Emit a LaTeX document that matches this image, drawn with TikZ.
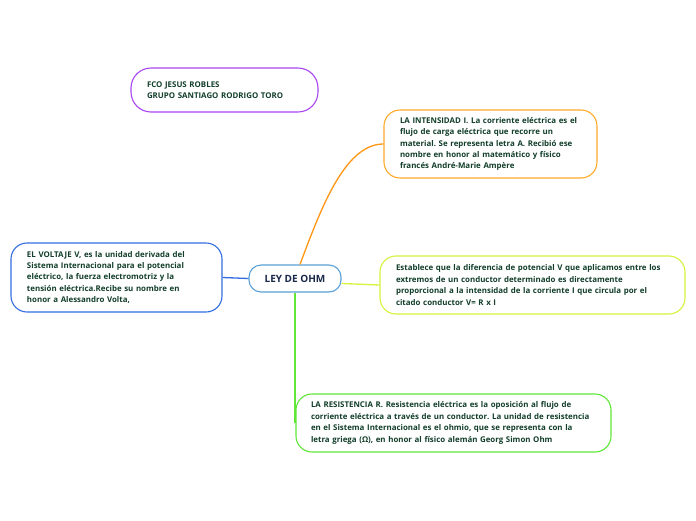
\documentclass[tikz,border=0pt]{standalone}
\usepackage{fontspec}
\setmainfont{Open Sans}
\frenchspacing
\definecolor{txtgreen}{RGB}{18,62,42}
\definecolor{txtnavy}{RGB}{24,40,72}
\definecolor{cpurple}{RGB}{170,70,240}
\definecolor{corange}{RGB}{255,170,40}
\definecolor{cblue}{RGB}{50,110,225}
\definecolor{ccenter}{RGB}{90,160,215}
\definecolor{cyellow}{RGB}{215,242,60}
\definecolor{cgreen}{RGB}{95,230,55}
\definecolor{lorange}{RGB}{255,150,20}
\begin{document}
\begin{tikzpicture}[x=1pt,y=-1pt,
  topic/.style={draw, line width=1.1pt, rounded corners=16pt, fill=white,
    font=\fontsize{7.9}{11.4}\selectfont\bfseries, text=txtgreen,
    align=left, inner xsep=0pt, inner ysep=0pt, anchor=center},
  central/.style={draw=ccenter, line width=1.1pt, rounded corners=12pt, fill=white,
    font=\fontsize{10}{12}\selectfont\bfseries, text=txtnavy,
    minimum width=92pt, minimum height=27pt, inner sep=0pt},
  link/.style={line width=1.3pt}
]
\useasboundingbox (0,0) rectangle (696,520);
\fill[white] (0,0) rectangle (696,520);

\node[central] (ohm) at (295,278.5) {LEY DE OHM};

\node[topic, draw=cpurple, rounded corners=20pt, minimum width=187pt, minimum height=44pt,
  text width=155pt] (autor) at (224.5,90)
  {FCO JESUS ROBLES\\GRUPO SANTIAGO RODRIGO TORO};

\node[topic, draw=corange, minimum width=213pt, minimum height=68pt,
  text width=181pt] (int) at (490.5,144)
  {LA INTENSIDAD I. La corriente eléctrica es el\\
   flujo de carga eléctrica que recorre un\\
   material. Se representa letra A. Recibió ese\\
   nombre en honor al matemático y físico\\
   francés André-Marie Ampère};

\node[topic, draw=cblue, minimum width=211pt, minimum height=69pt,
  text width=179pt] (volt) at (116.5,277.5)
  {EL VOLTAJE V, es la unidad derivada del\\
   Sistema Internacional para el potencial\\
   eléctrico, la fuerza electromotriz y la\\
   tensión eléctrica.Recibe su nombre en\\
   honor a Alessandro Volta,};

\node[topic, draw=cyellow, minimum width=305pt, minimum height=58pt,
  text width=273pt] (ley) at (532.5,285)
  {Establece que la diferencia de potencial V que aplicamos entre los\\
   extremos de un conductor determinado es directamente\\
   proporcional a la intensidad de la corriente I que circula por el\\
   citado conductor V= R x I};

\node[topic, draw=cgreen, minimum width=315pt, minimum height=58pt,
  text width=285pt] (res) at (453.5,423)
  {LA RESISTENCIA R. Resistencia eléctrica es la oposición al flujo de\\
   corriente eléctrica a través de un conductor. La unidad de resistencia\\
   en el Sistema Internacional es el ohmio, que se representa con la\\
   letra griega (Ω), en honor al físico alemán Georg Simon Ohm};

\draw[link, draw=lorange] ([xshift=5pt]ohm.north) .. controls (321,208) and (345,144) .. (int.west);
\draw[link, draw=cblue] (volt.east) -- (ohm.west);
\draw[link, draw=cyellow] ([yshift=-5pt]ohm.east) -- (ley.west);
\draw[link, draw=cgreen] (ohm.south) -- (ohm.south |- res.west);
\end{tikzpicture}
\end{document}
